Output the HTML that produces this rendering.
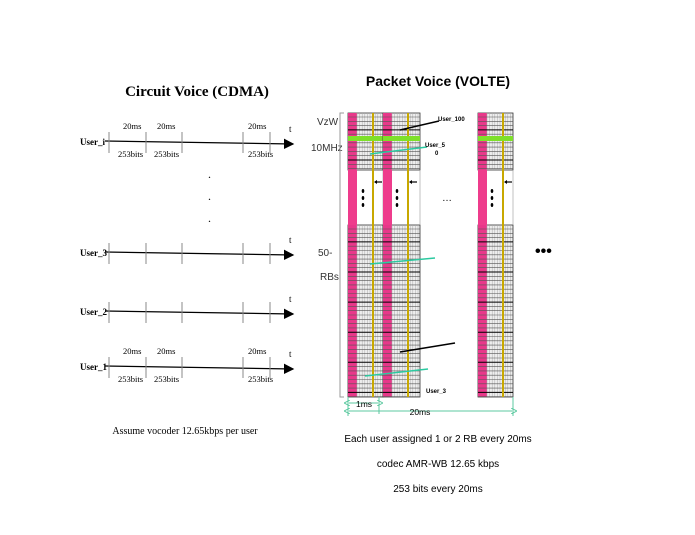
<!DOCTYPE html>
<html><head><meta charset="utf-8">
<style>
body{margin:0;background:#fff;}
svg{display:block;}
.serif{font-family:"Liberation Serif",serif;}
.sans{font-family:"Liberation Sans",sans-serif;}
</style></head>
<body>
<svg id="s" width="695" height="535" viewBox="0 0 695 535" xmlns="http://www.w3.org/2000/svg">
<defs>
<marker id="ar" markerWidth="8" markerHeight="8" refX="7" refY="4" orient="auto"><path d="M0,0 L8,4 L0,8 z" fill="#000"/></marker>
<marker id="ga" markerWidth="6" markerHeight="6" refX="1" refY="3" orient="auto-start-reverse" markerUnits="userSpaceOnUse"><path d="M0,0 L6,3 L0,6" fill="none" stroke="#5cc9a0" stroke-width="1"/></marker>
</defs>
<text x="197" y="96" text-anchor="middle" class="serif" font-size="15" font-weight="bold">Circuit Voice (CDMA)</text>
<text x="438" y="86" text-anchor="middle" class="sans" font-size="14" font-weight="bold">Packet Voice (VOLTE)</text>
<g id="left"></g>
<text x="208" y="178" class="serif" font-size="12">.</text>
<text x="208" y="200" class="serif" font-size="12">.</text>
<text x="208" y="222" class="serif" font-size="12">.</text>
<text x="185" y="434" text-anchor="middle" class="serif" font-size="10">Assume vocoder 12.65kbps per user</text>
<g id="right"></g>
<text x="317" y="125" class="sans" font-size="10" fill="#333">VzW</text>
<text x="311" y="151" class="sans" font-size="10" fill="#333">10MHz</text>
<text x="318" y="256" class="sans" font-size="10" fill="#333">50-</text>
<text x="320" y="280" class="sans" font-size="10" fill="#333">RBs</text>
<path d="M344,113 L340,113 L340,397 L344,397" fill="none" stroke="#999" stroke-width="1"/>
<text x="438" y="121" class="sans" font-size="6" font-weight="bold">User_100</text>
<text x="425" y="147" class="sans" font-size="6" font-weight="bold">User_5</text>
<text x="435" y="155" class="sans" font-size="6" font-weight="bold">0</text>
<text x="426" y="393" class="sans" font-size="6" font-weight="bold">User_3</text>
<text x="442" y="201" class="sans" font-size="10">…</text>
<text x="535" y="256" class="sans" font-size="16" font-weight="bold">•••</text>
<line x1="349" y1="403" x2="378" y2="403" stroke="#5cc9a0" marker-start="url(#ga)" marker-end="url(#ga)"/>
<line x1="349" y1="411" x2="512" y2="411" stroke="#5cc9a0" marker-start="url(#ga)" marker-end="url(#ga)"/>
<line x1="348" y1="397" x2="348" y2="416" stroke="#5cc9a0"/>
<line x1="379" y1="397" x2="379" y2="414" stroke="#5cc9a0"/>
<line x1="513" y1="397" x2="513" y2="416" stroke="#5cc9a0"/>
<text x="364" y="407" text-anchor="middle" class="sans" font-size="8.5">1ms</text>
<text x="420" y="415" text-anchor="middle" class="sans" font-size="8.5">20ms</text>
<text x="438" y="442" text-anchor="middle" class="sans" font-size="10">Each user assigned 1 or 2 RB every 20ms</text>
<text x="438" y="467" text-anchor="middle" class="sans" font-size="10">codec AMR-WB 12.65 kbps</text>
<text x="438" y="492" text-anchor="middle" class="sans" font-size="10">253 bits every 20ms</text>
</svg>
<script>
const NS="http://www.w3.org/2000/svg";
function mk(p,t,a){const e=document.createElementNS(NS,t);for(const k in a)e.setAttribute(k,a[k]);p.appendChild(e);return e;}
const users=["User_i","User_3","User_2","User_1"];
const ys=[142,253,312,367];
const ticks=[109,146,182,243,270];
const L=document.getElementById('left');
users.forEach((u,i)=>{
  const y=ys[i];
  const g=mk(L,'g',{});
  
  
  mk(g,'line',{x1:105,y1:y-1,x2:293,y2:y+2,stroke:'#000','stroke-width':1.3,'marker-end':'url(#ar)'});
  ticks.forEach(x=>mk(g,'line',{x1:x,y1:y-10,x2:x,y2:y+11,stroke:'#888','stroke-width':1}));
  const t=mk(g,'text',{x:80,y:y+3,'font-size':9,'font-weight':'bold','class':'serif'});t.textContent=u;
  const tt=mk(g,'text',{x:289,y:y-10,'font-size':9,'class':'serif'});tt.textContent='t';
  if(i===0||i===3){
    [[123,'20ms'],[157,'20ms'],[248,'20ms']].forEach(([x,s])=>{const e=mk(g,'text',{x:x,y:y-13,'font-size':8.5,'class':'serif'});e.textContent=s;});
    [[118,'253bits'],[154,'253bits'],[248,'253bits']].forEach(([x,s])=>{const e=mk(g,'text',{x:x,y:y+15,'font-size':8.5,'class':'serif'});e.textContent=s;});
  }
});
const R=document.getElementById('right');
const cols=[[348,383,373],[383,420,408],[478,513,503]];
function gridBlock(g,x0,x1,y0,y1){
  mk(g,'rect',{x:x0,y:y0,width:x1-x0,height:y1-y0,fill:'#eee',stroke:'#333','stroke-width':0.8});
  mk(g,'rect',{x:x0,y:y0,width:9,height:y1-y0,fill:'#e8388a'});
  for(let x=x0+9;x<x1;x+=2.6)mk(g,'line',{x1:x,y1:y0,x2:x,y2:y1,stroke:'#aaa','stroke-width':0.5});
  let k=0;for(let y=y0+4;y<y1;y+=4.3){mk(g,'line',{x1:x0,y1:y,x2:x1,y2:y,stroke:k%7==3?'#000':'#555','stroke-width':k%7==3?1:0.6});k++;}
}
cols.forEach(([x0,x1,yx],i)=>{
  const g=mk(R,'g',{});
  
  
  gridBlock(g,x0,x1,113,170);
  gridBlock(g,x0,x1,225,397);
  mk(g,'rect',{x:x0,y:170,width:9,height:55,fill:'#ee3c8c'});
  mk(g,'line',{x1:yx,y1:113,x2:yx,y2:397,stroke:'#c8a800','stroke-width':2});
  mk(g,'line',{x1:x1,y1:170,x2:x1,y2:225,stroke:'#999','stroke-width':0.6});
  mk(g,'rect',{x:x0,y:136,width:x1-x0,height:5,fill:'#7ee02a'});
  mk(g,'line',{x1:yx+9,y1:182,x2:yx+2,y2:182,stroke:'#000','stroke-width':1.2});
  mk(g,'path',{d:`M${yx+1},182 l3,-2 l0,4 z`,fill:'#000'});
  [191,198,205].forEach(y=>mk(g,'ellipse',{cx:x0+(x0===348?15:14),cy:y,rx:1.3,ry:2,fill:'#000'}));
});
[[400,130,439,121,'#000'],[370,154,427,147,'#2cc9a0'],[370,264,435,258,'#2cc9a0'],[400,352,455,343,'#000'],[365,376,428,369,'#2cc9a0']].forEach(([a,b,c,d,col])=>{
  const l=mk(R,'line',{x1:a,y1:b,x2:c,y2:d,stroke:col,'stroke-width':1.5});
  
  
});
</script>
</body></html>
